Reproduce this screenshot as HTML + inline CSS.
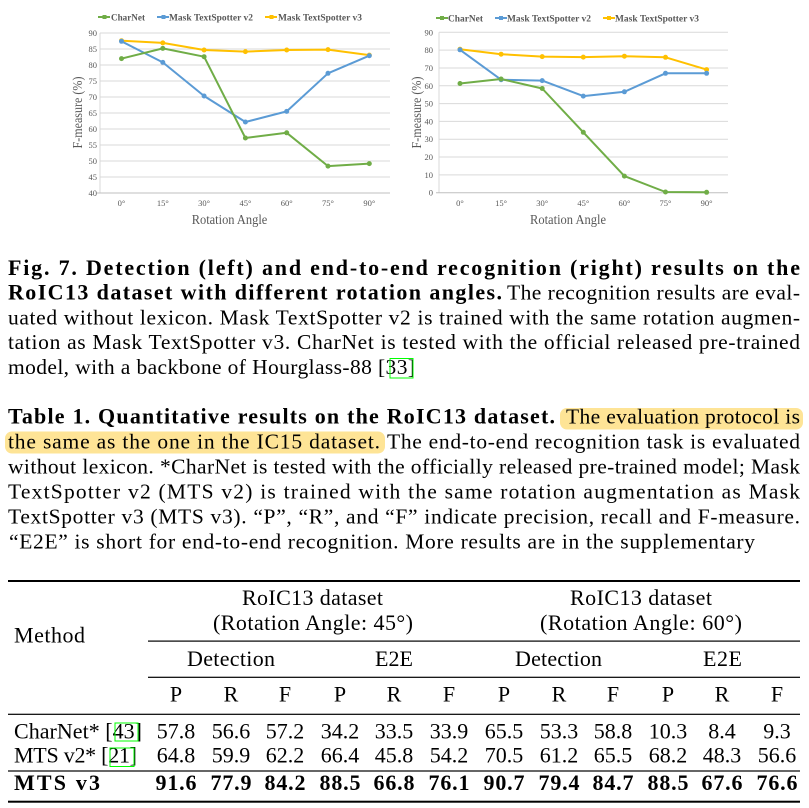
<!DOCTYPE html>
<html><head><meta charset="utf-8"><style>
html,body{margin:0;padding:0;background:#fff;width:809px;height:808px;overflow:hidden}
svg{position:absolute;left:0;top:0}
.t{font-family:"Liberation Serif",serif;fill:#595959}
.c{font-family:"Liberation Serif",serif;fill:#000;font-size:21.5px}
.cb{font-family:"Liberation Serif",serif;fill:#000;font-size:22px;font-weight:bold}
.b{font-weight:bold}
.tb{font-family:"Liberation Serif",serif;fill:#000;font-size:22px}
</style></head><body>
<svg width="809" height="808" viewBox="0 0 809 808" xmlns="http://www.w3.org/2000/svg">
<rect width="809" height="808" fill="#fff"/>
<!-- LEFT CHART -->
<g stroke="#d9d9d9" stroke-width="1">
<line x1="100" x2="390" y1="33" y2="33"/><line x1="100" x2="390" y1="49" y2="49"/>
<line x1="100" x2="390" y1="65" y2="65"/><line x1="100" x2="390" y1="81" y2="81"/>
<line x1="100" x2="390" y1="97" y2="97"/><line x1="100" x2="390" y1="113" y2="113"/>
<line x1="100" x2="390" y1="129" y2="129"/><line x1="100" x2="390" y1="145" y2="145"/>
<line x1="100" x2="390" y1="161" y2="161"/><line x1="100" x2="390" y1="177" y2="177"/>
<line x1="100" x2="100" y1="33" y2="193"/>
</g>
<line x1="97" x2="390" y1="193" y2="193" stroke="#bfbfbf" stroke-width="1"/>
<g class="t" font-size="8.5" text-anchor="end">
<text x="97" y="36">90</text><text x="97" y="52">85</text><text x="97" y="68">80</text>
<text x="97" y="84">75</text><text x="97" y="100">70</text><text x="97" y="116">65</text>
<text x="97" y="132">60</text><text x="97" y="148">55</text><text x="97" y="164">50</text>
<text x="97" y="180">45</text><text x="97" y="196">40</text>
</g>
<g class="t" font-size="8.5" text-anchor="middle">
<text x="121.5" y="206">0°</text><text x="162.8" y="206">15°</text><text x="204.1" y="206">30°</text>
<text x="245.4" y="206">45°</text><text x="286.7" y="206">60°</text><text x="328" y="206">75°</text>
<text x="369.3" y="206">90°</text>
</g>
<text class="t" font-size="13.5" text-anchor="middle" x="229.5" y="224" textLength="75.6" lengthAdjust="spacingAndGlyphs">Rotation Angle</text>
<text class="t" font-size="13.5" text-anchor="middle" transform="translate(82,112.5) rotate(-90)" textLength="72" lengthAdjust="spacingAndGlyphs">F-measure (%)</text>
<g fill="none" stroke-width="2" stroke-linejoin="round">
<polyline stroke="#ffc000" points="121.5,40.7 162.8,42.9 204.1,50 245.4,51.6 286.7,50 328,49.6 369.3,55.1"/>
<polyline stroke="#5b9bd5" points="121.5,41.3 162.8,62.4 204.1,96 245.4,122 286.7,111.4 328,73.3 369.3,55.7"/>
<polyline stroke="#70ad47" points="121.5,58.6 162.8,48.4 204.1,56.7 245.4,138 286.7,132.8 328,166.1 369.3,163.6"/>
</g>
<g fill="#ffc000"><circle cx="121.5" cy="40.7" r="2.5"/><circle cx="162.8" cy="42.9" r="2.5"/><circle cx="204.1" cy="50" r="2.5"/><circle cx="245.4" cy="51.6" r="2.5"/><circle cx="286.7" cy="50" r="2.5"/><circle cx="328" cy="49.6" r="2.5"/><circle cx="369.3" cy="55.1" r="2.5"/></g>
<g fill="#5b9bd5"><circle cx="121.5" cy="41.3" r="2.5"/><circle cx="162.8" cy="62.4" r="2.5"/><circle cx="204.1" cy="96" r="2.5"/><circle cx="245.4" cy="122" r="2.5"/><circle cx="286.7" cy="111.4" r="2.5"/><circle cx="328" cy="73.3" r="2.5"/><circle cx="369.3" cy="55.7" r="2.5"/></g>
<g fill="#70ad47"><circle cx="121.5" cy="58.6" r="2.5"/><circle cx="162.8" cy="48.4" r="2.5"/><circle cx="204.1" cy="56.7" r="2.5"/><circle cx="245.4" cy="138" r="2.5"/><circle cx="286.7" cy="132.8" r="2.5"/><circle cx="328" cy="166.1" r="2.5"/><circle cx="369.3" cy="163.6" r="2.5"/></g>
<!-- left legend -->
<line x1="98" x2="110" y1="17" y2="17" stroke="#70ad47" stroke-width="2"/><rect x="102.5" y="15" width="4" height="4" fill="#70ad47"/>
<text class="t b" font-size="9.5" x="111" y="20.5" textLength="34" lengthAdjust="spacingAndGlyphs" fill="#404040">CharNet</text>
<line x1="157" x2="169" y1="17" y2="17" stroke="#5b9bd5" stroke-width="2"/><rect x="161.5" y="15" width="4" height="4" fill="#5b9bd5"/>
<text class="t b" font-size="9.5" x="169" y="20.5" textLength="84" lengthAdjust="spacingAndGlyphs" fill="#404040">Mask TextSpotter v2</text>
<line x1="265" x2="277" y1="17" y2="17" stroke="#ffc000" stroke-width="2"/><rect x="269.5" y="15" width="4" height="4" fill="#ffc000"/>
<text class="t b" font-size="9.5" x="278" y="20.5" textLength="84" lengthAdjust="spacingAndGlyphs" fill="#404040">Mask TextSpotter v3</text>

<!-- RIGHT CHART -->
<g stroke="#d9d9d9" stroke-width="1">
<line x1="439" x2="728" y1="32.3" y2="32.3"/><line x1="439" x2="728" y1="50.1" y2="50.1"/>
<line x1="439" x2="728" y1="68" y2="68"/><line x1="439" x2="728" y1="85.8" y2="85.8"/>
<line x1="439" x2="728" y1="103.6" y2="103.6"/><line x1="439" x2="728" y1="121.4" y2="121.4"/>
<line x1="439" x2="728" y1="139.2" y2="139.2"/><line x1="439" x2="728" y1="157" y2="157"/>
<line x1="439" x2="728" y1="174.9" y2="174.9"/>
<line x1="439" x2="439" y1="32.3" y2="192.7"/>
</g>
<line x1="436" x2="728" y1="192.7" y2="192.7" stroke="#bfbfbf" stroke-width="1"/>
<g class="t" font-size="8.5" text-anchor="end">
<text x="433" y="35.3">90</text><text x="433" y="53.1">80</text><text x="433" y="71">70</text>
<text x="433" y="88.8">60</text><text x="433" y="106.6">50</text><text x="433" y="124.4">40</text>
<text x="433" y="142.2">30</text><text x="433" y="160">20</text><text x="433" y="177.9">10</text>
<text x="433" y="195.7">0</text>
</g>
<g class="t" font-size="8.5" text-anchor="middle">
<text x="460" y="206">0°</text><text x="501.1" y="206">15°</text><text x="542.2" y="206">30°</text>
<text x="583.3" y="206">45°</text><text x="624.4" y="206">60°</text><text x="665.5" y="206">75°</text>
<text x="706.6" y="206">90°</text>
</g>
<text class="t" font-size="13.5" text-anchor="middle" x="568" y="224" textLength="76" lengthAdjust="spacingAndGlyphs">Rotation Angle</text>
<text class="t" font-size="13.5" text-anchor="middle" transform="translate(421,112.5) rotate(-90)" textLength="72" lengthAdjust="spacingAndGlyphs">F-measure (%)</text>
<g fill="none" stroke-width="2" stroke-linejoin="round">
<polyline stroke="#ffc000" points="460,49.2 501.1,54.2 542.2,56.6 583.3,57.1 624.4,56.2 665.5,57.3 706.6,69.6"/>
<polyline stroke="#5b9bd5" points="460,49.8 501.1,79.7 542.2,80.6 583.3,96.1 624.4,91.8 665.5,73.3 706.6,73.3"/>
<polyline stroke="#70ad47" points="460,83.5 501.1,79 542.2,88.5 583.3,132.3 624.4,176.1 665.5,192 706.6,192.3"/>
</g>
<g fill="#ffc000"><circle cx="460" cy="49.2" r="2.5"/><circle cx="501.1" cy="54.2" r="2.5"/><circle cx="542.2" cy="56.6" r="2.5"/><circle cx="583.3" cy="57.1" r="2.5"/><circle cx="624.4" cy="56.2" r="2.5"/><circle cx="665.5" cy="57.3" r="2.5"/><circle cx="706.6" cy="69.6" r="2.5"/></g>
<g fill="#5b9bd5"><circle cx="460" cy="49.8" r="2.5"/><circle cx="501.1" cy="79.7" r="2.5"/><circle cx="542.2" cy="80.6" r="2.5"/><circle cx="583.3" cy="96.1" r="2.5"/><circle cx="624.4" cy="91.8" r="2.5"/><circle cx="665.5" cy="73.3" r="2.5"/><circle cx="706.6" cy="73.3" r="2.5"/></g>
<g fill="#70ad47"><circle cx="460" cy="83.5" r="2.5"/><circle cx="501.1" cy="79" r="2.5"/><circle cx="542.2" cy="88.5" r="2.5"/><circle cx="583.3" cy="132.3" r="2.5"/><circle cx="624.4" cy="176.1" r="2.5"/><circle cx="665.5" cy="192" r="2.5"/><circle cx="706.6" cy="192.3" r="2.5"/></g>
<!-- right legend -->
<line x1="436" x2="448" y1="18" y2="18" stroke="#70ad47" stroke-width="2"/><rect x="440" y="16" width="4" height="4" fill="#70ad47"/>
<text class="t b" font-size="9.5" x="448" y="21.5" textLength="35" lengthAdjust="spacingAndGlyphs" fill="#404040">CharNet</text>
<line x1="495" x2="507" y1="18" y2="18" stroke="#5b9bd5" stroke-width="2"/><rect x="499" y="16" width="4" height="4" fill="#5b9bd5"/>
<text class="t b" font-size="9.5" x="507" y="21.5" textLength="84" lengthAdjust="spacingAndGlyphs" fill="#404040">Mask TextSpotter v2</text>
<line x1="603" x2="615" y1="18" y2="18" stroke="#ffc000" stroke-width="2"/><rect x="607" y="16" width="4" height="4" fill="#ffc000"/>
<text class="t b" font-size="9.5" x="615" y="21.5" textLength="84" lengthAdjust="spacingAndGlyphs" fill="#404040">Mask TextSpotter v3</text>

<!-- FIG CAPTION -->
<text class="cb" x="8" y="275" textLength="792" lengthAdjust="spacing">Fig. 7. Detection (left) and end-to-end recognition (right) results on the</text>
<text class="cb" x="8" y="299.7" textLength="494" lengthAdjust="spacing">RoIC13 dataset with different rotation angles.</text>
<text class="c" x="507" y="299.7" textLength="293" lengthAdjust="spacing">The recognition results are eval-</text>
<text class="c" x="8" y="324.4" textLength="792" lengthAdjust="spacing">uated without lexicon. Mask TextSpotter v2 is trained with the same rotation augmen-</text>
<text class="c" x="8" y="349.1" textLength="792" lengthAdjust="spacing">tation as Mask TextSpotter v3. CharNet is tested with the official released pre-trained</text>
<text class="c" x="8" y="373.8" textLength="407" lengthAdjust="spacing">model, with a backbone of Hourglass-88 [33]</text>
<rect x="390" y="358.5" width="23" height="19.5" fill="none" stroke="#00ff00" stroke-width="1"/>

<!-- TABLE CAPTION -->
<rect x="560" y="408" width="243" height="21.5" rx="7" fill="#fee496"/>
<rect x="5" y="431.5" width="380" height="22" rx="7" fill="#fee496"/>
<text class="cb" x="8" y="423.5" textLength="547" lengthAdjust="spacing">Table 1. Quantitative results on the RoIC13 dataset.</text>
<text class="c" x="566" y="423.5" textLength="234" lengthAdjust="spacing">The evaluation protocol is</text>
<text class="c" x="8" y="448.5" textLength="372" lengthAdjust="spacing">the same as the one in the IC15 dataset.</text>
<text class="c" x="387" y="448.5" textLength="413" lengthAdjust="spacing">The end-to-end recognition task is evaluated</text>
<text class="c" x="8" y="473.5" textLength="792" lengthAdjust="spacing">without lexicon. *CharNet is tested with the officially released pre-trained model; Mask</text>
<text class="c" x="8" y="498.5" textLength="792" lengthAdjust="spacing">TextSpotter v2 (MTS v2) is trained with the same rotation augmentation as Mask</text>
<text class="c" x="8" y="523.5" textLength="792" lengthAdjust="spacing">TextSpotter v3 (MTS v3). “P”, “R”, and “F” indicate precision, recall and F-measure.</text>
<text class="c" x="9" y="548.5" textLength="746" lengthAdjust="spacing">“E2E” is short for end-to-end recognition. More results are in the supplementary</text>

<!-- TABLE -->
<g fill="#000">
<rect x="8" y="580" width="792" height="2"/>
<rect x="148" y="640.5" width="652" height="1.2"/>
<rect x="148" y="676.7" width="652" height="1.2"/>
<rect x="8" y="713.7" width="792" height="1.2"/>
<rect x="8" y="770.4" width="792" height="1.2"/>
<rect x="8" y="800.7" width="792" height="2"/>
</g>
<g class="tb" text-anchor="middle">
<text x="312.5" y="605" textLength="141" lengthAdjust="spacing">RoIC13 dataset</text>
<text x="641" y="605" textLength="142" lengthAdjust="spacing">RoIC13 dataset</text>
<text x="313" y="630" textLength="200" lengthAdjust="spacing">(Rotation Angle: 45°)</text>
<text x="641" y="630" textLength="202" lengthAdjust="spacing">(Rotation Angle: 60°)</text>
<text x="231" y="666" textLength="88" lengthAdjust="spacing">Detection</text>
<text x="394" y="666" textLength="38" lengthAdjust="spacing">E2E</text>
<text x="558.5" y="666" textLength="87" lengthAdjust="spacing">Detection</text>
<text x="722.5" y="666" textLength="39" lengthAdjust="spacing">E2E</text>
<text x="176" y="701.7">P</text><text x="231" y="701.7">R</text><text x="285" y="701.7">F</text>
<text x="340" y="701.7">P</text><text x="394" y="701.7">R</text><text x="449" y="701.7">F</text>
<text x="504" y="701.7">P</text><text x="559" y="701.7">R</text><text x="613" y="701.7">F</text>
<text x="668" y="701.7">P</text><text x="722" y="701.7">R</text><text x="777" y="701.7">F</text>
<text x="176" y="738.3">57.8</text><text x="231" y="738.3">56.6</text><text x="285" y="738.3">57.2</text>
<text x="340" y="738.3">34.2</text><text x="394" y="738.3">33.5</text><text x="449" y="738.3">33.9</text>
<text x="504" y="738.3">65.5</text><text x="559" y="738.3">53.3</text><text x="613" y="738.3">58.8</text>
<text x="668" y="738.3">10.3</text><text x="722" y="738.3">8.4</text><text x="777" y="738.3">9.3</text>
<text x="176" y="762.7">64.8</text><text x="231" y="762.7">59.9</text><text x="285" y="762.7">62.2</text>
<text x="340" y="762.7">66.4</text><text x="394" y="762.7">45.8</text><text x="449" y="762.7">54.2</text>
<text x="504" y="762.7">70.5</text><text x="559" y="762.7">61.2</text><text x="613" y="762.7">65.5</text>
<text x="668" y="762.7">68.2</text><text x="722" y="762.7">48.3</text><text x="777" y="762.7">56.6</text>
</g>
<g class="tb b" text-anchor="middle">
<text x="176" y="790" textLength="41" lengthAdjust="spacing">91.6</text><text x="231" y="790" textLength="41" lengthAdjust="spacing">77.9</text><text x="285" y="790" textLength="41" lengthAdjust="spacing">84.2</text>
<text x="340" y="790" textLength="41" lengthAdjust="spacing">88.5</text><text x="394" y="790" textLength="41" lengthAdjust="spacing">66.8</text><text x="449" y="790" textLength="41" lengthAdjust="spacing">76.1</text>
<text x="504" y="790" textLength="41" lengthAdjust="spacing">90.7</text><text x="559" y="790" textLength="41" lengthAdjust="spacing">79.4</text><text x="613" y="790" textLength="41" lengthAdjust="spacing">84.7</text>
<text x="668" y="790" textLength="41" lengthAdjust="spacing">88.5</text><text x="722" y="790" textLength="41" lengthAdjust="spacing">67.6</text><text x="777" y="790" textLength="41" lengthAdjust="spacing">76.6</text>
</g>
<text class="tb" x="14" y="642.7" textLength="71" lengthAdjust="spacing">Method</text>
<text class="tb" x="14" y="738.3" textLength="128" lengthAdjust="spacing">CharNet* [43]</text>
<text class="tb" x="14" y="762.7" textLength="123" lengthAdjust="spacing">MTS v2* [21]</text>
<text class="tb b" x="14" y="790" textLength="86" lengthAdjust="spacing">MTS v3</text>
<rect x="115" y="723" width="23" height="18" fill="none" stroke="#00ff00" stroke-width="1"/>
<rect x="110" y="748" width="24" height="18.5" fill="none" stroke="#00ff00" stroke-width="1"/>
</svg>
</body></html>
